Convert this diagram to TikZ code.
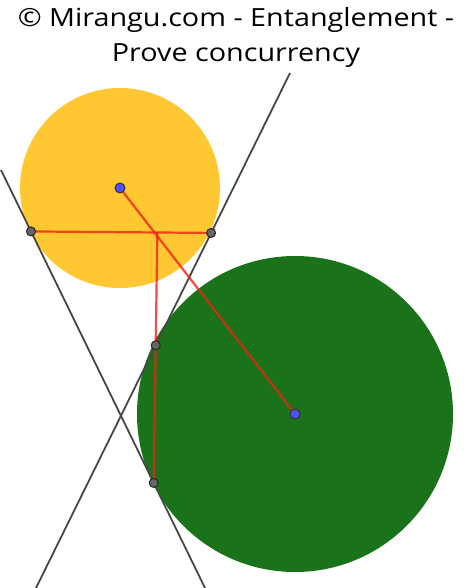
\documentclass[tikz,border=0pt]{standalone}
\usepackage{fontspec}
\setmainfont{Open Sans}
\newfontfamily\titlefont[FakeStretch=1.15]{Open Sans}
\usetikzlibrary{calc}
\definecolor{sunyellow}{RGB}{255,200,51}
\definecolor{darkgreen}{RGB}{26,115,26}
\definecolor{chordred}{RGB}{235,35,15}
\definecolor{dotblue}{RGB}{80,80,255}
\tikzset{
  tangentline/.style={draw=black!72,line width=1.8pt},
  chordline/.style={draw=chordred,opacity=0.8,line width=2.2pt},
  centerdot/.style={circle,fill=dotblue,draw=black!80,line width=1pt,inner sep=0pt,minimum size=10pt},
  touchdot/.style={circle,fill=black!60,draw=black!85,line width=1pt,inner sep=0pt,minimum size=9pt}
}

\begin{document}
\begin{tikzpicture}[x=1pt,y=-1pt]
            \useasboundingbox (0,0) rectangle (474,588);
            \node (title1) at (236,27) [anchor=base,font=\titlefont\fontsize{25}{30}\selectfont] {© Mirangu.com - Entanglement -};
            \node (title2) at (236,62) [anchor=base,font=\titlefont\fontsize{25}{30}\selectfont] {Prove concurrency};
            % circles
            \coordinate (A) at (120,188);
            \coordinate (B) at (295,414);
            \fill[sunyellow] (A) circle (100);
            \fill[darkgreen] (B) circle (158);
            % tangent lines
            \coordinate (L1a) at (1,170);
            \coordinate (L1b) at (205,588);
            \coordinate (L2a) at (290,73);
            \coordinate (L2b) at (36,588);
            \draw[tangentline] (L1a)--(L1b);
            \draw[tangentline] (L2a)--(L2b);
            % touching points
            \coordinate (T1) at ($(L1a)!(A)!(L1b)$);
            \coordinate (T2) at ($(L2a)!(A)!(L2b)$);
            \coordinate (T3) at ($(L2a)!(B)!(L2b)$);
            \coordinate (T4) at ($(L1a)!(B)!(L1b)$);
            \coordinate (X) at (intersection of T1--T2 and T3--T4);
            \draw[chordline] (T1)--(T2);
            \draw[chordline] (X)--(T4);
            \draw[chordline] (A)--(B);
            \node[touchdot] (p1) at (T1) {};
            \node[touchdot] (p2) at (T2) {};
            \node[touchdot] (p3) at (T3) {};
            \node[touchdot] (p4) at (T4) {};
            \node[centerdot] (a) at (A) {};
            \node[centerdot] (b) at (B) {};
        \end{tikzpicture}
\end{document}
